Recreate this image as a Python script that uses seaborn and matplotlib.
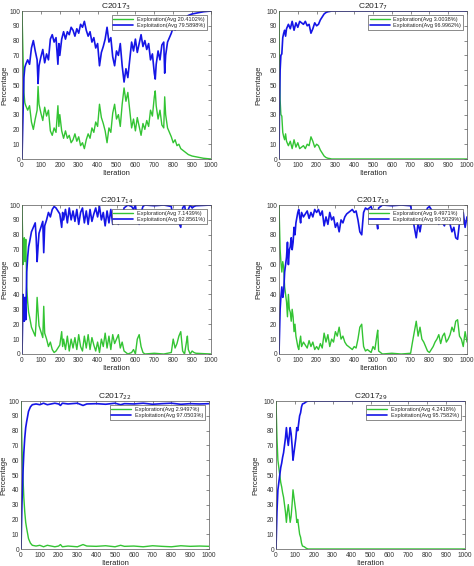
import numpy as np
import pandas as pd
import matplotlib
matplotlib.use("Agg")
import matplotlib.pyplot as plt
import seaborn as sns

# ---- data (iteration, % exploration / % exploitation) ----
titles = [r"C2017$_{3}$", r"C2017$_{7}$", r"C2017$_{14}$",
          r"C2017$_{19}$", r"C2017$_{22}$", r"C2017$_{29}$"]
avg_explore = ["20.4102", "3.0038", "7.1439", "9.4971", "2.9497", "4.2418"]
avg_exploit = ["79.5898", "96.9962", "92.8561", "90.5029", "97.0503", "95.7582"]

it1 = [0, 5, 10, 15, 20, 30, 40, 50, 60, 70, 80, 85, 90, 100, 110, 120, 130, 140, 150, 160,
       170, 180, 190, 195, 200, 210, 220, 230, 240, 250, 260, 270, 280, 290, 300, 310, 320, 330,
       340, 350, 360, 370, 380, 390, 400, 410, 420, 430, 440, 450, 460, 470, 480, 490, 500, 510,
       520, 530, 540, 550, 560, 570, 580, 590, 600, 610, 620, 630, 640, 650, 660, 670, 680, 690,
       700, 705, 710, 720, 730, 740, 750, 755, 760, 770, 780, 790, 800, 810, 820, 830, 840, 850,
       860, 870, 880, 890, 900, 920, 940, 960, 1000]
explore1 = [100, 72, 45, 38, 36, 33, 36, 25, 20, 27, 33, 49, 37, 31, 26, 35, 29, 33, 19, 16,
            21, 18, 36, 22, 30, 19, 14, 19, 14, 16, 11, 13, 17, 12, 15, 9, 11, 7,
            13, 17, 14, 21, 18, 25, 22, 37, 28, 24, 19, 11, 21, 18, 31, 37, 27, 30,
            22, 37, 48, 39, 45, 33, 21, 27, 19, 28, 22, 16, 24, 20, 26, 22, 33, 29,
            42, 46, 36, 27, 33, 23, 21, 42, 30, 21, 18, 15, 11, 13, 9, 10, 7, 6,
            5, 4, 3, 2.5, 2, 1.5, 1, 0.5, 0]
exploit1 = [0, 28, 55, 62, 64, 67, 64, 75, 80, 73, 67, 51, 63, 69, 74, 65, 71, 67, 81, 84,
            79, 82, 64, 78, 70, 81, 86, 81, 86, 84, 89, 87, 83, 88, 85, 91, 89, 93,
            87, 83, 86, 79, 82, 75, 78, 63, 72, 76, 81, 89, 79, 82, 69, 63, 73, 70,
            78, 63, 52, 61, 55, 67, 79, 73, 81, 72, 78, 84, 76, 80, 74, 78, 67, 71,
            58, 54, 64, 73, 67, 77, 79, 58, 70, 79, 82, 85, 89, 87, 91, 90, 93, 94,
            95, 96, 97, 97.5, 98, 98.5, 99, 99.5, 100]

it2 = [0, 3, 6, 10, 15, 20, 25, 30, 35, 40, 50, 60, 70, 80, 90, 100, 110, 120, 130, 140,
       150, 160, 170, 180, 190, 200, 210, 220, 230, 240, 250, 260, 270, 280, 1000]
explore2 = [100, 60, 40, 30, 29, 18, 15, 13, 17, 12, 9, 12, 7, 13, 8, 11, 7, 8, 9, 7,
            10, 9, 15, 12, 8, 10, 9, 6, 4, 2, 1, 0.5, 0.3, 0, 0]
exploit2 = [0, 40, 60, 70, 71, 82, 85, 87, 83, 88, 91, 88, 93, 87, 92, 89, 93, 92, 91, 93,
            90, 91, 85, 88, 92, 90, 91, 94, 96, 98, 99, 99.5, 99.7, 100, 100]

it3 = [0, 3, 5, 8, 10, 12, 15, 20, 25, 30, 35, 40, 50, 60, 70, 75, 80, 85, 90, 100,
       110, 115, 120, 130, 140, 150, 160, 170, 180, 190, 200, 210, 215, 220, 230, 240, 250, 260,
       270, 280, 290, 300, 310, 320, 330, 340, 350, 360, 370, 380, 390, 400, 410, 420, 430, 440,
       450, 460, 470, 480, 490, 500, 510, 520, 530, 540, 550, 560, 580, 590, 600, 610, 620, 630,
       640, 650, 700, 750, 790, 800, 810, 820, 830, 840, 850, 860, 870, 875, 880, 890, 900, 910,
       920, 1000]
explore3 = [100, 80, 60, 77, 64, 78, 62, 77, 45, 35, 28, 25, 18, 15, 12, 22, 38, 28, 19, 15,
            11, 32, 14, 10, 5, 8, 3, 1, 2, 4, 6, 15, 5, 10, 3, 12, 2, 10,
            4, 11, 3, 13, 5, 2, 12, 4, 13, 3, 11, 6, 2, 8, 1, 10, 5, 14,
            4, 12, 3, 13, 7, 10, 13, 4, 8, 2, 1, 0, 1, 3, 0, 10, 13, 5,
            1, 0, 0.5, 0, 1, 10, 4, 7, 12, 15, 2, 0, 8, 12, 3, 0, 2, 1,
            0.5, 0]
exploit3 = [0, 20, 40, 23, 36, 22, 38, 23, 55, 65, 72, 75, 82, 85, 88, 78, 62, 72, 81, 85,
            89, 68, 86, 90, 95, 92, 97, 99, 98, 96, 94, 85, 95, 90, 97, 88, 98, 90,
            96, 89, 97, 87, 95, 98, 88, 96, 87, 97, 89, 94, 98, 92, 99, 90, 95, 86,
            96, 88, 97, 87, 93, 90, 87, 96, 92, 98, 99, 100, 99, 97, 100, 90, 87, 95,
            99, 100, 99.5, 100, 99, 90, 96, 93, 88, 85, 98, 100, 92, 88, 97, 100, 98, 99,
            99.5, 100]

it4 = [0, 3, 6, 10, 15, 20, 25, 30, 35, 40, 45, 50, 55, 60, 65, 70, 75, 80, 85, 90,
       100, 105, 110, 115, 120, 130, 140, 150, 160, 170, 180, 190, 200, 210, 220, 230, 240, 250,
       260, 270, 280, 290, 300, 310, 320, 330, 340, 350, 360, 370, 380, 390, 400, 410, 420, 430,
       440, 445, 450, 460, 470, 480, 490, 500, 510, 520, 525, 530, 540, 550, 600, 650, 700, 710,
       720, 730, 740, 750, 760, 770, 780, 790, 800, 810, 820, 830, 840, 850, 860, 870, 880, 890,
       900, 910, 920, 930, 940, 950, 960, 970, 980, 990, 1000]
explore4 = [100, 85, 70, 62, 55, 62, 58, 45, 40, 35, 25, 40, 30, 28, 22, 30, 25, 15, 20, 12,
            5, 3, 8, 12, 5, 8, 6, 4, 9, 5, 8, 3, 5, 3, 7, 4, 14, 8,
            13, 5, 10, 8, 15, 12, 18, 10, 12, 8, 6, 5, 4, 3, 5, 4, 10, 18,
            20, 12, 5, 2, 3, 2, 1, 5, 3, 12, 16, 2, 1, 0, 0.5, 0, 0.5, 8,
            15, 22, 12, 18, 10, 8, 5, 2, 1, 3, 5, 8, 10, 13, 7, 12, 14, 8,
            10, 13, 18, 15, 22, 23, 12, 10, 5, 15, 8]
exploit4 = [0, 15, 30, 38, 45, 38, 42, 55, 60, 65, 75, 60, 70, 72, 78, 70, 75, 85, 80, 88,
            95, 97, 92, 88, 95, 92, 94, 96, 91, 95, 92, 97, 95, 97, 93, 96, 86, 92,
            87, 95, 90, 92, 85, 88, 82, 90, 88, 92, 94, 95, 96, 97, 95, 96, 90, 82,
            80, 88, 95, 98, 97, 98, 99, 95, 97, 88, 84, 98, 99, 100, 99.5, 100, 99.5, 92,
            85, 78, 88, 82, 90, 92, 95, 98, 99, 97, 95, 92, 90, 87, 93, 88, 86, 92,
            90, 87, 82, 85, 78, 77, 88, 90, 95, 85, 92]

it5 = [0, 5, 10, 15, 20, 25, 30, 40, 50, 60, 80, 100, 120, 140, 160, 180, 200, 210, 220, 250,
       300, 330, 350, 400, 450, 500, 530, 550, 600, 650, 700, 750, 800, 850, 900, 950, 1000]
explore5 = [100, 70, 50, 35, 25, 18, 14, 7, 4, 2.5, 2, 2.5, 1.5, 2.5, 2, 1.5, 2, 3, 1.5, 2,
            1.5, 3, 2, 1.8, 2.2, 1.5, 2.5, 1.8, 2, 1.5, 2.2, 1.8, 1.5, 2.2, 1.8, 2, 1.8]
exploit5 = [0, 30, 50, 65, 75, 82, 86, 93, 96, 97.5, 98, 97.5, 98.5, 97.5, 98, 98.5, 98, 97, 98.5, 98,
            98.5, 97, 98, 98.2, 97.8, 98.5, 97.5, 98.2, 98, 98.5, 97.8, 98.2, 98.5, 97.8, 98.2, 98, 98.2]

it6 = [0, 5, 10, 15, 20, 25, 30, 35, 40, 45, 50, 55, 60, 65, 70, 75, 80, 85, 90, 95,
       100, 105, 110, 115, 120, 125, 130, 135, 140, 150, 160, 170, 200, 1000]
explore6 = [100, 75, 60, 55, 50, 45, 42, 38, 35, 30, 25, 18, 25, 30, 24, 18, 22, 30, 40, 35,
            30, 25, 18, 20, 15, 10, 8, 4, 2, 1.5, 0.5, 0, 0, 0]
exploit6 = [0, 25, 40, 45, 50, 55, 58, 62, 65, 70, 75, 82, 75, 70, 76, 82, 78, 70, 60, 65,
            70, 75, 82, 80, 85, 90, 92, 96, 98, 98.5, 99.5, 100, 100, 100]

iters = [it1, it2, it3, it4, it5, it6]
explores = [explore1, explore2, explore3, explore4, explore5, explore6]
exploits = [exploit1, exploit2, exploit3, exploit4, exploit5, exploit6]

# axes boxes in pixels (left, top, right, bottom) on a 474x566 canvas
boxes = [(22, 11, 211, 159), (279, 11, 467, 159),
         (22, 205, 211, 354), (279, 205, 467, 354),
         (21, 401, 209, 549), (276, 401, 465, 549)]

sns.set_style("white")
plt.rcParams.update({
    "font.family": ["Liberation Sans", "DejaVu Sans"],
    "xtick.direction": "in", "ytick.direction": "in",
    "xtick.top": True, "ytick.right": True,
    "xtick.major.size": 2, "ytick.major.size": 2,
    "xtick.major.width": 0.4, "ytick.major.width": 0.4,
    "xtick.major.pad": 2, "ytick.major.pad": 1.5,
    "axes.linewidth": 0.5,
    "axes.edgecolor": "#555555",
})

W, H = 474, 566
fig = plt.figure(figsize=(W / 100, H / 100), dpi=100)
green = "#33c433"
blue = "#1515e6"

for i in range(6):
    l, t, r, b = boxes[i]
    ax = fig.add_axes([l / W, 1 - b / H, (r - l) / W, (b - t) / H])
    df = pd.DataFrame({"Iteration": iters[i], "explore": explores[i], "exploit": exploits[i]})
    sns.lineplot(data=df, x="Iteration", y="explore", color=green, lw=1.0, ax=ax,
                 label=f"Exploration(Avg {avg_explore[i]}%)")
    sns.lineplot(data=df, x="Iteration", y="exploit", color=blue, lw=1.2, ax=ax,
                 label=f"Exploitation(Avg {avg_exploit[i]}%)")
    ax.set_xlim(0, 1000)
    ax.set_ylim(0, 100)
    ax.set_xticks(np.arange(0, 1001, 100))
    ax.set_yticks(np.arange(0, 101, 10))
    ax.tick_params(labelsize=4.8, colors="#333333")
    ax.set_xlabel("Iteration", fontsize=5.5, labelpad=1, color="#222222")
    ax.set_ylabel("Percentage", fontsize=5.5, color="#222222")
    # y label sits just left of the tick labels, as in the reference
    ax.yaxis.set_label_coords(-0.07 if i % 2 == 0 else -0.09, 0.5)
    ax.set_title(titles[i], fontsize=6, pad=2, color="#222222")
    leg = ax.legend(loc="upper right", fontsize=4.0, frameon=True, fancybox=False,
                    framealpha=1, edgecolor="#333333", borderaxespad=0.8,
                    handlelength=3.6, borderpad=0.3, labelspacing=0.2, handletextpad=0.6)
    leg.get_frame().set_linewidth(0.4)

fig.savefig("out.png", dpi=100)
